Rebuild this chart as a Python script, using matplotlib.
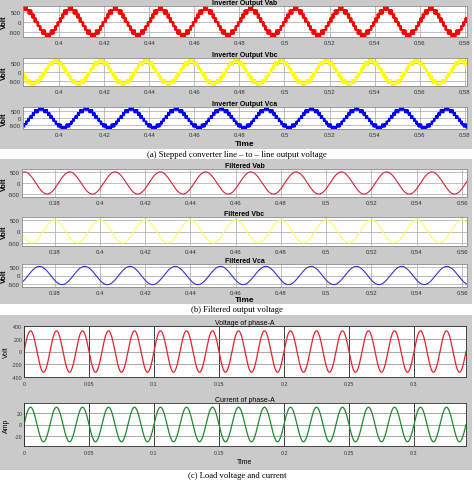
import numpy as np
import matplotlib
matplotlib.use('Agg')
import matplotlib.pyplot as plt
from matplotlib.patches import Rectangle

plt.rcParams['font.family'] = ['Liberation Sans', 'DejaVu Sans']

W, H = 474, 481
f_grid = 50  # Hz

# (a) inverter output, stepped line-to-line voltages
inv_names = ['Inverter Output Vab', 'Inverter Output Vbc', 'Inverter Output Vca']
inv_colors = ['#ff0000', '#ffff00', '#0000ff']
inv_peak_t = [0.385, 0.3985, 0.392]   # time of a positive peak (s)
inv_amp = 640
inv_step = 200
inv_carrier = 3000  # Hz
inv_xlim = (0.384, 0.581)
inv_xticks = [0.4, 0.42, 0.44, 0.46, 0.48, 0.5, 0.52, 0.54, 0.56, 0.58]
inv_xlabels = ['0.4', '0.42', '0.44', '0.46', '0.48', '0.5', '0.52', '0.54', '0.56', '0.58']
volt_yticks = [-500, 0, 500]
volt_ylabels = ['-500', '0', '500']

# (b) filtered voltages
filt_names = ['Filtered Vab', 'Filtered Vbc', 'Filtered Vca']
filt_colors = ['#d42238', '#ffff5a', '#3434d2']
filt_peak_t = [0.3667, 0.38, 0.3733]
filt_amp = 515
filt_xlim = (0.3656, 0.5622)
filt_xticks = [0.38, 0.4, 0.42, 0.44, 0.46, 0.48, 0.5, 0.52, 0.54, 0.56]
filt_xlabels = ['0.38', '0.4', '0.42', '0.44', '0.46', '0.48', '0.5', '0.52', '0.54', '0.56']

# (c) load voltage and current
load_names = ['Voltage of phase-A', 'Current of phase-A']
load_colors = ['#e8202c', '#1e8a2a']
load_amp = [325, 29]
load_ylabels = ['Volt', 'Amp']
load_ylim = [(-400, 400), (-36, 36)]
load_yticks = [[-400, -200, 0, 200, 400], [-20, 0, 20]]
load_yticklabels = [['-400', '-200', '0', '200', '400'], ['-20', '0', '20']]
load_xlim = (0, 0.34)
load_xticks = [0, 0.05, 0.1, 0.15, 0.2, 0.25, 0.3]
load_xlabels = ['0', '0.05', '0.1', '0.15', '0.2', '0.25', '0.3']

captions = ['(a) Stepped converter line \u2013 to \u2013 line output voltage',
            '(b) Filtered output voltage',
            '(c) Load voltage and current']

fig = plt.figure(figsize=(W / 100, H / 100), dpi=100)
fig.patch.set_facecolor('white')


def px_axes(l, t, r, b):
    return fig.add_axes([l / W, 1 - b / H, (r - l) / W, (b - t) / H])


def gray_box(t, b):
    fig.patches.append(Rectangle((0, 1 - b / H), 472 / W, (b - t) / H,
                                 transform=fig.transFigure, facecolor='#cacaca',
                                 edgecolor='none', zorder=-5))


def px_text(x, y, s, **kw):
    fig.text(x / W, 1 - y / H, s, ha='center', va='center', **kw)


def style(ax, grid_col='#b4b4b4'):
    ax.set_facecolor('white')
    for s in ax.spines.values():
        s.set_color('#8a8a8a')
        s.set_linewidth(0.6)
    ax.tick_params(length=0, labelsize=4.3, colors='#333333')
    ax.tick_params(axis='x', pad=2.5)
    ax.tick_params(axis='y', pad=1.3)
    ax.grid(True, color=grid_col, linewidth=0.6)
    ax.set_axisbelow(True)


# ---- panel (a)
gray_box(0, 150)
a_rows = [(7, 38), (59, 87), (108, 130)]
t_inv = np.linspace(inv_xlim[0], inv_xlim[1], 80000)
carrier = np.abs(((t_inv * inv_carrier) % 1.0) * 2 - 1)
for i, (top, bot) in enumerate(a_rows):
    ax = px_axes(23, top, 467, bot)
    ref = inv_amp * np.cos(2 * np.pi * f_grid * (t_inv - inv_peak_t[i])) / inv_step
    lvl = np.floor(ref)
    v = (lvl + ((ref - lvl) > carrier)) * inv_step
    ax.plot(t_inv, v, color=inv_colors[i], linewidth=0.9)
    ax.set_xlim(*inv_xlim)
    ax.set_ylim(-750, 800)
    ax.set_xticks(inv_xticks, inv_xlabels)
    ax.set_yticks(volt_yticks, volt_ylabels)
    style(ax)
    ax.set_title(inv_names[i], fontsize=5, fontweight='bold', pad=1.2)
    px_text(4.5, (top + bot) / 2, 'Volt', fontsize=5.3, fontweight='bold', rotation=90)
px_text(245, 144, 'Time', fontsize=6, fontweight='bold')
px_text(237, 155, captions[0], family='Liberation Serif', fontsize=6.2)

# ---- panel (b)
gray_box(160, 305)
b_rows = [(170, 198), (218, 247), (265, 288)]
t_f = np.linspace(filt_xlim[0], filt_xlim[1], 4000)
for i, (top, bot) in enumerate(b_rows):
    ax = px_axes(22, top, 467, bot)
    ax.plot(t_f, filt_amp * np.cos(2 * np.pi * f_grid * (t_f - filt_peak_t[i])),
            color=filt_colors[i], linewidth=0.8)
    ax.set_xlim(*filt_xlim)
    ax.set_ylim(-650, 650)
    ax.set_xticks(filt_xticks, filt_xlabels)
    ax.set_yticks(volt_yticks, volt_ylabels)
    style(ax)
    ax.set_title(filt_names[i], fontsize=5, fontweight='bold', pad=1.2)
    px_text(4.5, (top + bot) / 2, 'Volt', fontsize=5.3, fontweight='bold', rotation=90)
px_text(245, 300, 'Time', fontsize=6, fontweight='bold')
px_text(237, 310, captions[1], family='Liberation Serif', fontsize=6.2)

# ---- panel (c)
gray_box(316, 471)
c_rows = [(327, 378), (404, 447)]
t_l = np.linspace(load_xlim[0], load_xlim[1], 4000)
for i, (top, bot) in enumerate(c_rows):
    ax = px_axes(24, top, 466, bot)
    ax.plot(t_l, load_amp[i] * np.sin(2 * np.pi * f_grid * t_l),
            color=load_colors[i], linewidth=0.9)
    ax.set_xlim(*load_xlim)
    ax.set_ylim(*load_ylim[i])
    ax.set_xticks(load_xticks, load_xlabels)
    ax.set_yticks(load_yticks[i], load_yticklabels[i])
    style(ax, grid_col='#9a9a9a')
    ax.xaxis.grid(True, color='#202020', linewidth=0.6)
    ax.tick_params(labelsize=3.8)
    ax.tick_params(axis='x', pad=3)
    for s in ax.spines.values():
        s.set_color('#303030')
    ax.set_title(load_names[i], fontsize=5, pad=1.5)
    px_text(6, (top + bot) / 2, load_ylabels[i], fontsize=5, rotation=90)
px_text(245, 463, 'Time', fontsize=5)
px_text(237, 476, captions[2], family='Liberation Serif', fontsize=6.2)

fig.savefig('out.png', dpi=100)
